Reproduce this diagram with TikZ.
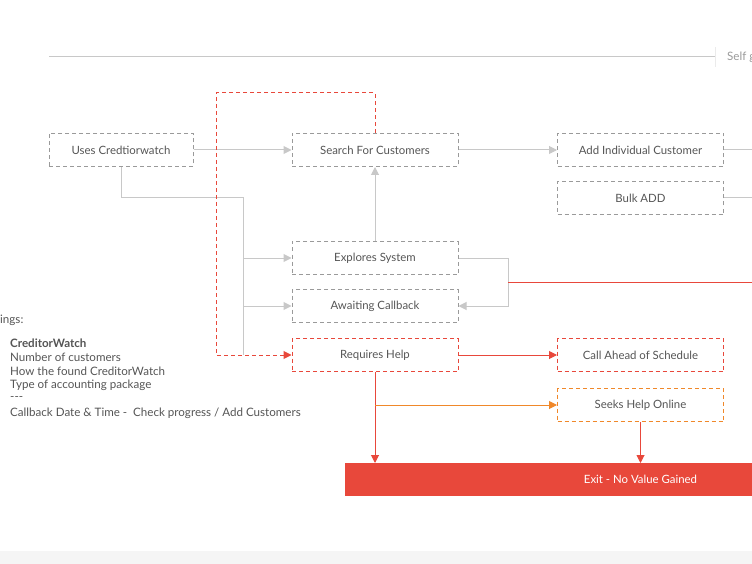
\documentclass[tikz,border=0pt]{standalone}
\usepackage{fontspec}
\setmainfont{Lato}
\usetikzlibrary{arrows.meta}
\definecolor{gline}{HTML}{C8C8C8}
\definecolor{gbox}{HTML}{9A9A9A}
\definecolor{rd}{HTML}{E8483B}
\definecolor{org}{HTML}{F0882A}
\definecolor{txt}{HTML}{555555}
\begin{document}
\begin{tikzpicture}[x=1pt,y=-1pt,
  box/.style={draw=gbox,dashed,dash pattern=on 4pt off 3pt,line width=1pt,minimum width=166pt,minimum height=33pt,inner sep=0pt,text=txt,font=\fontsize{11.4}{13}\selectfont},
  rbox/.style={box,draw=rd},
  obox/.style={box,draw=org},
  gc/.style={draw=gline,line width=1pt},
  ga/.style={gc,-{Triangle[length=8pt,width=8pt]}},
  rc/.style={draw=rd,line width=1pt},
  ra/.style={rc,-{Triangle[length=8pt,width=8pt]}},
  oa/.style={draw=org,line width=1pt,-{Triangle[length=8pt,width=8pt]}},
  lt/.style={anchor=west,inner sep=0pt,text=txt,font=\fontsize{11.6}{13}\selectfont}]
\useasboundingbox (0,0) rectangle (752,564);
\clip (0,0) rectangle (752,564);
\fill[black!4] (0,551) rectangle (752,564);
% top rule
\draw[gline,line width=1pt] (49,57) -- (715,57);
\draw[black!8,line width=1pt] (715,47) -- (715,67);
\node[lt,text=gbox] (self) at (727,57) {Self guided};
% nodes
\node[box,minimum width=144pt] (uses) at (121,150) {Uses Credtiorwatch};
\node[box] (search) at (375,150) {Search For Customers};
\node[box] (add) at (640.5,150) {Add Individual Customer};
\node[box] (bulk) at (640.5,198) {Bulk ADD};
\node[box] (expl) at (375,258) {Explores System};
\node[box] (await) at (375,306) {Awaiting Callback};
\node[rbox] (help) at (375,355) {Requires Help};
\node[rbox] (call) at (640.5,355) {Call Ahead of Schedule};
\node[obox] (seek) at (640.5,405) {Seeks Help Online};
\node[fill=rd,minimum width=420pt,minimum height=33pt,inner sep=0pt] (exit) at (555,479.5) {};
\node[text=white,font=\fontsize{11.4}{13}\selectfont] (exitlbl) at (640.5,479.5) {Exit - No Value Gained};
\coordinate (o1) at (752,150);
\coordinate (o2) at (752,198);
\coordinate (o3) at (752,282);
\coordinate (j1) at (508,282);
% gray connectors
\draw[ga] (uses) -- (search);
\draw[ga] (search) -- (add);
\draw[gc] (add.east) -- (o1);
\draw[gc] (bulk.east) -- (o2);
\draw[gc] (uses.south) |- (243,198) -- (243,355);
\draw[ga] (243,258) -- (expl.west);
\draw[ga] (243,306) -- (await.west);
\draw[ga] (expl.north) -- (search.south);
\draw[ga] (expl.east) -- (508,258) -- (508,306) -- (await.east);
% red
\draw[rc] (j1) -- (o3);
\draw[ra,dashed,dash pattern=on 4pt off 3pt] (search.north) |- (216,93) |- (help.west);
\draw[ra] (help) -- (call);
\draw[ra] (help.south) -- (375,463);
\draw[oa] (375,405) -- (seek.west);
\draw[ra] (seek.south) -- (640.5,463);
% left text
\node[lt] (t0) at (0,320) {ings:};
\node[lt,font=\fontsize{11.6}{13}\selectfont\bfseries] (t1) at (10,343) {CreditorWatch};
\node[lt] (t2) at (10,357) {Number of customers};
\node[lt] (t3) at (10,371) {How the found CreditorWatch};
\node[lt] (t4) at (10,385) {Type of accounting package};
\node[lt] (t5) at (10,399) {{-}{-}{-}};
\node[lt] (t6) at (10,413) {Callback Date \& Time -\ \ Check progress / Add Customers};
\end{tikzpicture}
\end{document}
